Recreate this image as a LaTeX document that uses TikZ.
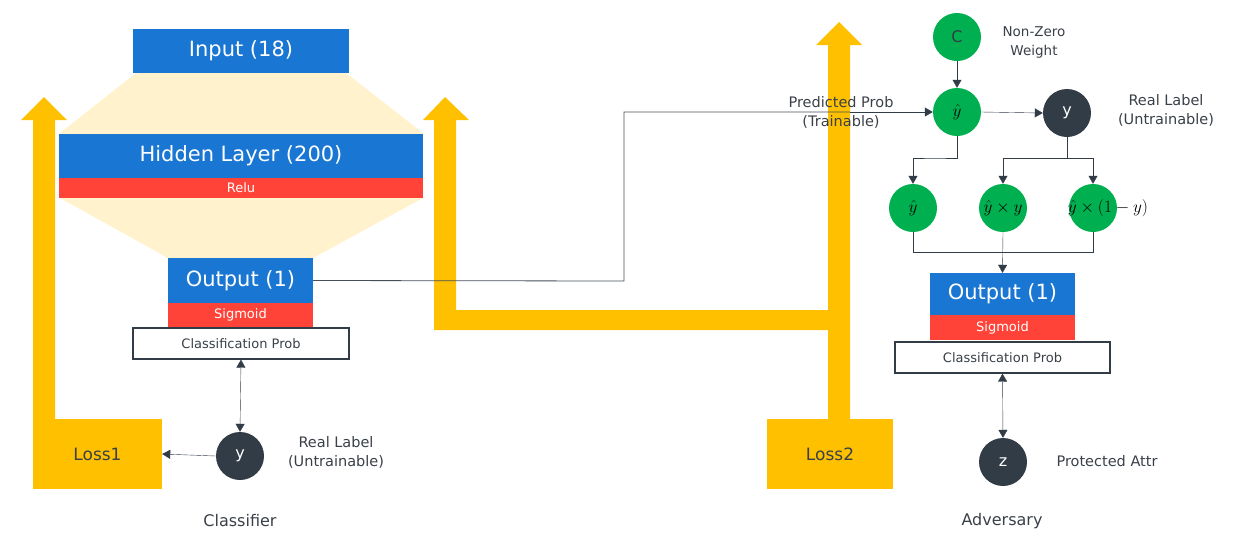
\documentclass[tikz,border=0pt]{standalone}
\usepackage{fontspec}
\setmainfont{DejaVu Sans}
\usetikzlibrary{arrows.meta}
\definecolor{yel}{HTML}{FFC000}
\definecolor{cream}{HTML}{FFF2CC}
\definecolor{blu}{HTML}{1976D2}
\definecolor{rd}{HTML}{FF4339}
\definecolor{drk}{HTML}{323C46}
\definecolor{grn}{HTML}{00B050}
\definecolor{txt}{HTML}{3A4048}
\begin{document}
\begin{tikzpicture}[x=1pt,y=-1pt,
  blk/.style={fill=blu,text=white,font=\fontsize{21}{24}\selectfont,inner sep=0},
  act/.style={fill=rd,text=white,font=\fontsize{13}{15}\selectfont,inner sep=0},
  prob/.style={draw=drk,line width=1.3pt,fill=white,text=txt,font=\fontsize{13}{15}\selectfont,inner sep=0},
  dc/.style={circle,fill=drk,text=white,minimum size=48pt,inner sep=0,font=\fontsize{16}{18}\selectfont},
  gc/.style={circle,fill=grn,minimum size=48pt,inner sep=0,font=\fontsize{17}{19}\selectfont},
  lbl/.style={text=txt,font=\fontsize{14.5}{19}\selectfont,align=center},
  loss/.style={fill=yel,text=txt,inner sep=0,font=\fontsize{17}{20}\selectfont},
  ar/.style={draw=drk,-{Triangle[length=8pt,width=9pt]}},
  dar/.style={draw=drk,{Triangle[length=8pt,width=9pt]}-{Triangle[length=8pt,width=9pt]}}]
\useasboundingbox (0,0) rectangle (1234,550);
% cream hexagon
\fill[cream] (136,73)--(346,73)--(423,133)--(423,198)--(313,258)--(168,258)--(60,198)--(60,133)--cycle;
% yellow arrows
\fill[yel] (33,419)--(33,120)--(21,120)--(44,97)--(67,120)--(55,120)--(55,419)--cycle;
\fill[yel] (434,330)--(434,120)--(423,120)--(445,97)--(469,120)--(456,120)--(456,310)--(828,310)--(828,45)--(816,45)--(839,22)--(862,45)--(850,45)--(850,420)--(828,420)--(828,330)--cycle;
% left network
\node[blk,minimum width=216pt,minimum height=44pt] (in) at (241,51) {Input (18)};
\node[blk,minimum width=364pt,minimum height=44pt] (hid) at (241,156) {Hidden Layer (200)};
\node[act,minimum width=364pt,minimum height=20pt] (relu) at (241,188) {Relu};
\node[blk,minimum width=145pt,minimum height=45pt] (out1) at (240.5,280.5) {Output (1)};
\node[act,minimum width=145pt,minimum height=24pt] (sig1) at (240.5,315) {Sigmoid};
\node[prob,minimum width=216pt,minimum height=31pt] (cp1) at (241,343.5) {Classification Prob};
\node[dc] (y1) at (240,456) {y};
\node[loss,minimum width=129pt,minimum height=70pt] (l1) at (97.5,454) {Loss1};
\node[lbl] (rl1) at (336,452) {Real Label\\(Untrainable)};
\node[lbl,font=\fontsize{16}{19}\selectfont] (cls) at (240,521) {Classifier};
\draw[dar] (cp1.south) -- (y1.north);
\draw[ar] (y1.west) -- (l1.east);
% right
\node[loss,minimum width=126pt,minimum height=70pt] (l2) at (830,454) {Loss2};
\node[gc,text=drk,font=\fontsize{16}{18}\selectfont] (c) at (957,37) {C};
\node[lbl,font=\fontsize{13.5}{19}\selectfont] (nz) at (1034,42) {Non-Zero\\Weight};
\node[gc] (yh) at (957,112) {$\hat y$};
\node[dc] (y2) at (1067,113) {y};
\node[lbl] (pp) at (841,112) {Predicted Prob\\(Trainable)};
\node[lbl] (rl2) at (1166,110) {Real Label\\(Untrainable)};
\node[gc] (a) at (913,208) {$\hat y$};
\node[gc] (b) at (1003,208) {};
\node[gc] (d) at (1093,208) {};
\node at (b) {\fontsize{17}{19}\selectfont$\hat y\times y$};
\node at (1108,208) {\fontsize{17}{19}\selectfont$\hat y\times(1-y)$};
\node[blk,minimum width=145pt,minimum height=42pt] (out2) at (1002.5,294) {Output (1)};
\node[act,minimum width=145pt,minimum height=25pt] (sig2) at (1002.5,327.5) {Sigmoid};
\node[prob,minimum width=215pt,minimum height=31pt] (cp2) at (1002.5,357.5) {Classification Prob};
\node[dc] (z) at (1003,462) {z};
\node[lbl] (pa) at (1107,461) {Protected Attr};
\node[lbl,font=\fontsize{16}{19}\selectfont] (adv) at (1002,521) {Adversary};
\draw[dar] (cp2.south) -- (z.north);
\draw[ar] (c.south) -- (yh.north);
\draw[ar] (yh.east) -- (y2.west);
\draw[ar] (yh.south) |- (935,158) -| (a.north);
\draw[ar] (y2.south) |- (1003,158) -- (b.north);
\draw[ar] (1067,158) -| (d.north);
\draw[draw=drk] (a.south) |- (1093,252) -- (d.south);
\draw[ar] (b.south) -- (out2.north);
\draw[draw=drk!90!white,line width=0.8pt] (out1.east) -- (624,281) |- (850,112);
\draw[ar] (850,112) -- (yh.west);
\end{tikzpicture}
\end{document}
